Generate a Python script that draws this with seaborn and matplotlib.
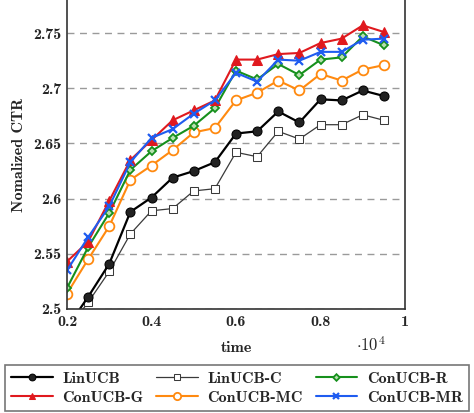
import numpy as np
import pandas as pd
import matplotlib
matplotlib.use("Agg")
import matplotlib.pyplot as plt
import seaborn as sns

# data (time in units of 10^4)
time = [0.2, 0.25, 0.3, 0.35, 0.4, 0.45, 0.5, 0.55, 0.6, 0.65, 0.7, 0.75, 0.8, 0.85, 0.9, 0.95]
linucb = [2.483, 2.511, 2.541, 2.588, 2.601, 2.619, 2.625, 2.633, 2.659, 2.661, 2.679, 2.669, 2.690, 2.689, 2.698, 2.693]
linucb_c = [2.481, 2.506, 2.534, 2.568, 2.589, 2.591, 2.607, 2.609, 2.642, 2.638, 2.661, 2.654, 2.667, 2.667, 2.676, 2.671]
conucb_r = [2.519, 2.556, 2.587, 2.626, 2.643, 2.655, 2.666, 2.682, 2.716, 2.708, 2.722, 2.712, 2.726, 2.728, 2.747, 2.739]
conucb_g = [2.543, 2.561, 2.598, 2.635, 2.653, 2.671, 2.680, 2.689, 2.726, 2.726, 2.731, 2.732, 2.741, 2.745, 2.757, 2.751]
conucb_mc = [2.514, 2.545, 2.575, 2.617, 2.630, 2.644, 2.660, 2.664, 2.689, 2.696, 2.707, 2.698, 2.713, 2.707, 2.717, 2.721]
conucb_mr = [2.535, 2.565, 2.593, 2.633, 2.655, 2.663, 2.677, 2.689, 2.714, 2.706, 2.726, 2.725, 2.733, 2.733, 2.744, 2.745]

y_ticks = [2.5, 2.55, 2.6, 2.65, 2.7, 2.75]
y_tick_labels = ["2.5", "2.55", "2.6", "2.65", "2.7", "2.75"]
x_ticks = [0.2, 0.4, 0.6, 0.8, 1.0]
x_tick_labels = ["0.2", "0.4", "0.6", "0.8", "1"]

sns.set_style("white")
plt.rcParams["font.family"] = ["cmb10", "DejaVu Serif"]
plt.rcParams["mathtext.fontset"] = "cm"

fig = plt.figure(figsize=(4.74, 4.13), dpi=100)
ax = fig.add_axes([67 / 474, 1 - 309 / 413, (405 - 67) / 474, 309 / 413])

for yv in y_ticks:
    ax.axhline(yv, color="#9a9a9a", lw=1.0, ls=(0, (5, 4)), zorder=0)

styles = [
    ("LinUCB", linucb, dict(color="black", lw=1.6, marker="o", ms=6.5, mfc="#222222", mec="black")),
    ("ConUCB-G", conucb_g, dict(color="#e0191e", lw=1.5, marker="^", ms=6.5, mfc="#e0191e", mec="#e0191e")),
    ("LinUCB-C", linucb_c, dict(color="#3a3a3a", lw=0.9, marker="s", ms=6, mfc="white", mec="#3a3a3a")),
    ("ConUCB-MC", conucb_mc, dict(color="#ff8a10", lw=1.5, marker="o", ms=7, mfc="white", mec="#ff8a10", mew=1.3)),
    ("ConUCB-R", conucb_r, dict(color="#16901c", lw=1.5, marker="D", ms=4.5, mfc="#b8e0b0", mec="#16901c", mew=1.3)),
    ("ConUCB-MR", conucb_mr, dict(color="#1f5cf0", lw=1.5, marker="x", ms=5.5, mec="#1f5cf0", mew=1.6)),
]
draw_order = ["LinUCB-C", "LinUCB", "ConUCB-MC", "ConUCB-R", "ConUCB-G", "ConUCB-MR"]
handles = {}
for name in draw_order:
    for label, vals, kw in styles:
        if label == name:
            sns.lineplot(x=time, y=vals, ax=ax, label=label, **kw)
            handles[label] = ax.get_lines()[-1]
if ax.get_legend() is not None:
    ax.get_legend().remove()

ax.set_xlim(0.2, 1.0)
ax.set_ylim(2.5, 2.78)
ax.set_xticks(x_ticks)
ax.set_xticklabels(x_tick_labels, fontsize=11.5)
ax.set_yticks(y_ticks)
ax.set_yticklabels(y_tick_labels, fontsize=11.5)
ax.tick_params(length=0, pad=4)
ax.set_ylabel("Nomalized CTR", fontsize=11.5, labelpad=5)
ax.set_xlabel("time", fontsize=11.5, labelpad=9)
ax.spines["top"].set_visible(False)
for s in ["left", "right", "bottom"]:
    ax.spines[s].set_color("#333333")
    ax.spines[s].set_linewidth(1.2)

fig.text(371 / 474, 1 - 345 / 413, r"$\mathbf{\cdot 10^4}$", fontsize=12, ha="center", va="center")

order = [s[0] for s in styles]
leg = fig.legend([handles[n] for n in order], order, ncol=3, loc="lower center",
                 bbox_to_anchor=(0.5, 0.0), fontsize=11.5, frameon=True, fancybox=False,
                 handlelength=2.6, columnspacing=0.8, handletextpad=0.6, labelspacing=0.3,
                 borderpad=0.4, borderaxespad=0.1, markerscale=0.75)
leg.get_frame().set_edgecolor("#555555")
leg.get_frame().set_linewidth(1.2)

fig.savefig("out.png", dpi=100)
